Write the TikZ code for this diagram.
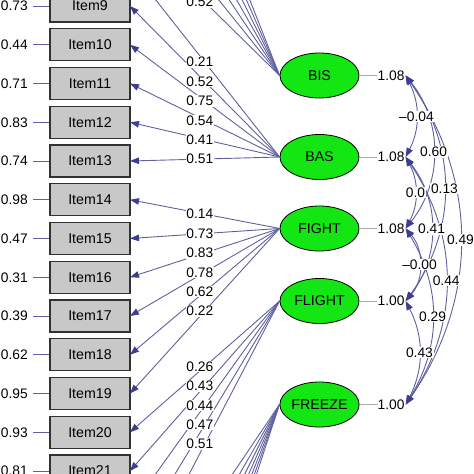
\documentclass[tikz,border=0pt]{standalone}
\usepackage{fontspec}
\setmainfont{Liberation Sans}
\usetikzlibrary{arrows.meta,shapes.geometric}
\definecolor{linec}{RGB}{96,96,158}
\definecolor{tipc}{RGB}{62,62,145}
\definecolor{boxfill}{RGB}{200,200,200}
\definecolor{boxdraw}{RGB}{50,50,50}
\definecolor{latfill}{RGB}{20,230,20}
\definecolor{varlinec}{RGB}{170,170,170}
\begin{document}
\begin{tikzpicture}[x=1pt,y=-1pt,
  font=\fontsize{13.8}{16}\selectfont,
  itembox/.style={draw=boxdraw, fill=boxfill, line width=1.1pt, minimum width=80pt, minimum height=32pt, inner sep=0pt, font=\fontsize{14.2}{16}\selectfont},
  latent/.style={ellipse, draw=black, fill=latfill, line width=0.8pt, minimum width=79pt, minimum height=45pt, inner sep=0pt, font=\fontsize{14.2}{16}\selectfont},
  load/.style={draw=linec, line width=0.9pt, -{Triangle[length=9pt,width=6.5pt,color=tipc]}},
  cov/.style={draw=linec, line width=0.9pt, {Triangle[length=9pt,width=6.5pt,color=tipc]}-{Triangle[length=9pt,width=6.5pt,color=tipc]}},
  lbl/.style={fill=white, inner sep=0.8pt},
  errlbl/.style={anchor=east, inner xsep=5pt, inner ysep=0pt},
  errline/.style={draw=linec, line width=0.9pt},
  varlbl/.style={inner sep=0pt, anchor=west},
  varline/.style={draw=varlinec, line width=0.9pt}
]
\useasboundingbox (0,0) rectangle (474,474);
\clip (0,0) rectangle (474,474);

% item anchor coordinates (east side of each item box)
\foreach \k in {1,...,31} { \coordinate (i\k) at (130,{6+(\k-9)*38.75}); }

% visible item boxes
\foreach \k in {9,...,21} { \node[itembox] (box\k) at (90,{6+(\k-9)*38.75}) {Item\k}; }

% error variance labels
\foreach \k/\v in {9/0.73,10/0.44,11/0.71,12/0.83,13/0.74,14/0.98,15/0.47,16/0.31,17/0.39,18/0.62,19/0.95,20/0.93,21/0.81} {
  \node[errlbl] (e\k) at (33,{6+(\k-9)*38.75}) {\v};
  \draw[errline] (e\k.east) -- (box\k.west);
}

% latent variables
\node[latent] (BIS) at (319.5,75.5) {BIS};
\node[latent] (BAS) at (319.5,157) {BAS};
\node[latent] (FIGHT) at (319.5,228.5) {FIGHT};
\node[latent] (FLIGHT) at (319.5,301) {FLIGHT};
\node[latent] (FREEZE) at (319.5,404.5) {FREEZE};

% variance labels
\foreach \f/\v in {BIS/1.08,BAS/1.08,FIGHT/1.08,FLIGHT/1.00,FREEZE/1.00} {
  \node[varlbl] (v\f) at ([xshift=18pt]\f.east) {\v};
  \draw[varline] (\f.east) -- (v\f.west);
  \coordinate (c\f) at ([xshift=1pt]v\f.east);
}

% loadings
\foreach \f/\k in {BIS/1,BIS/2,BIS/3,BIS/4,BIS/5,BIS/6,BIS/7,
                   BAS/8,BAS/9,BAS/10,BAS/11,BAS/12,BAS/13,
                   FIGHT/14,FIGHT/15,FIGHT/16,FIGHT/17,FIGHT/18,FIGHT/19,
                   FLIGHT/20,FLIGHT/21,FLIGHT/22,FLIGHT/23,FLIGHT/24,
                   FREEZE/25,FREEZE/26,FREEZE/27,FREEZE/28,FREEZE/29,FREEZE/30,FREEZE/31} {
  \draw[load] (\f.west) -- (i\k);
}

% covariances
\foreach \a/\b/\ang in {BIS/FREEZE/34.7,BIS/FLIGHT/36,BAS/FREEZE/34,BIS/FIGHT/38.5,BAS/FLIGHT/38,FIGHT/FREEZE/31.5,
                        BIS/BAS/27,BAS/FIGHT/28,FIGHT/FLIGHT/41,FLIGHT/FREEZE/27} {
  \draw[cov] (c\a) to[bend left=\ang] (c\b);
}

% loading labels
\foreach \f/\k/\v in {BIS/7/0.52,BAS/8/0.21,BAS/9/0.52,BAS/10/0.75,BAS/11/0.54,BAS/12/0.41,BAS/13/0.51,
                      FIGHT/14/0.14,FIGHT/15/0.73,FIGHT/16/0.83,FIGHT/17/0.78,FIGHT/18/0.62,FIGHT/19/0.22,
                      FLIGHT/20/0.26,FLIGHT/21/0.43,FLIGHT/22/0.44,FLIGHT/23/0.47,FLIGHT/24/0.51} {
  \path (\f.west) -- (i\k) node[midway,xshift=-5pt,lbl] (l\k) {\v};
}

% covariance labels
\foreach \a/\b/\ang/\v in {BIS/FREEZE/34.7/0.49,BIS/FLIGHT/36/0.13,BAS/FREEZE/34/0.44,BIS/FIGHT/38.5/0.60,BAS/FLIGHT/38/0.41,FIGHT/FREEZE/31.5/0.29,
                        BIS/BAS/27/\textendash0.04,BAS/FIGHT/28/0.0,FIGHT/FLIGHT/41/\textendash0.00,FLIGHT/FREEZE/27/0.43} {
  \path (c\a) to[bend left=\ang] node[midway,lbl] {\v} (c\b);
}
\end{tikzpicture}
\end{document}
